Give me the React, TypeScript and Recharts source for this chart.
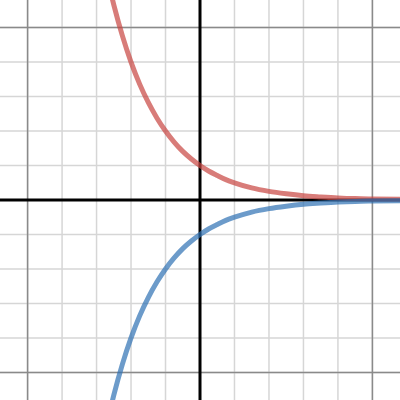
import { LineChart, Line, XAxis, YAxis, ReferenceLine } from "recharts";

// x positions where the curves were read
const xs = [
  -2.6, -2.5, -2.25, -2, -1.75, -1.5, -1.25, -1, -0.75, -0.5, -0.25, 0, 0.25,
  0.5, 0.75, 1, 1.5, 2, 2.5, 3, 3.5, 4, 4.5, 5, 5.8,
];
// red curve (upper)
const redValues = [
  6.06, 5.66, 4.76, 4.0, 3.36, 2.83, 2.38, 2.0, 1.68, 1.41, 1.19, 1.0, 0.84,
  0.71, 0.59, 0.5, 0.35, 0.25, 0.18, 0.125, 0.09, 0.06, 0.04, 0.03, 0.02,
];
// blue curve (lower)
const blueValues = [
  -6.06, -5.66, -4.76, -4.0, -3.36, -2.83, -2.38, -2.0, -1.68, -1.41, -1.19,
  -1.0, -0.84, -0.71, -0.59, -0.5, -0.35, -0.25, -0.18, -0.125, -0.09, -0.06,
  -0.04, -0.03, -0.02,
];
const minorTicks = [-5, -4, -3, -2, -1, 1, 2, 3, 4, 5];
const majorTicks = [-5, 5];

const data = xs.map((x, i) => ({ x, red: redValues[i], blue: blueValues[i] }));

export default function App() {
  return (
    <div style={{ position: "absolute", left: 0, top: 0, width: 400, height: 400, background: "#fff" }}>
      <LineChart width={400} height={400} data={data} margin={{ top: 0, right: 0, bottom: 0, left: 0 }}>
        <XAxis dataKey="x" type="number" domain={[-5.8, 5.8]} allowDataOverflow hide />
        <YAxis type="number" domain={[-5.8, 5.8]} allowDataOverflow hide width={0} />
        {minorTicks.map((t) => (
          <ReferenceLine key={"vx" + t} x={t} stroke="#d6d6d6" strokeWidth={1.5} />
        ))}
        {minorTicks.map((t) => (
          <ReferenceLine key={"hy" + t} y={t} stroke="#d6d6d6" strokeWidth={1.5} />
        ))}
        {majorTicks.map((t) => (
          <ReferenceLine key={"mx" + t} x={t} stroke="#8a8a8a" strokeWidth={1.5} />
        ))}
        {majorTicks.map((t) => (
          <ReferenceLine key={"my" + t} y={t} stroke="#8a8a8a" strokeWidth={1.5} />
        ))}
        <ReferenceLine x={0} stroke="#000" strokeWidth={3} />
        <ReferenceLine y={0} stroke="#000" strokeWidth={3} />
        <Line
          dataKey="red"
          type="monotone"
          stroke="#c74440"
          strokeOpacity={0.7}
          strokeWidth={5}
          dot={false}
          isAnimationActive={false}
        />
        <Line
          dataKey="blue"
          type="monotone"
          stroke="#2d70b3"
          strokeOpacity={0.7}
          strokeWidth={5}
          dot={false}
          isAnimationActive={false}
        />
      </LineChart>
    </div>
  );
}
